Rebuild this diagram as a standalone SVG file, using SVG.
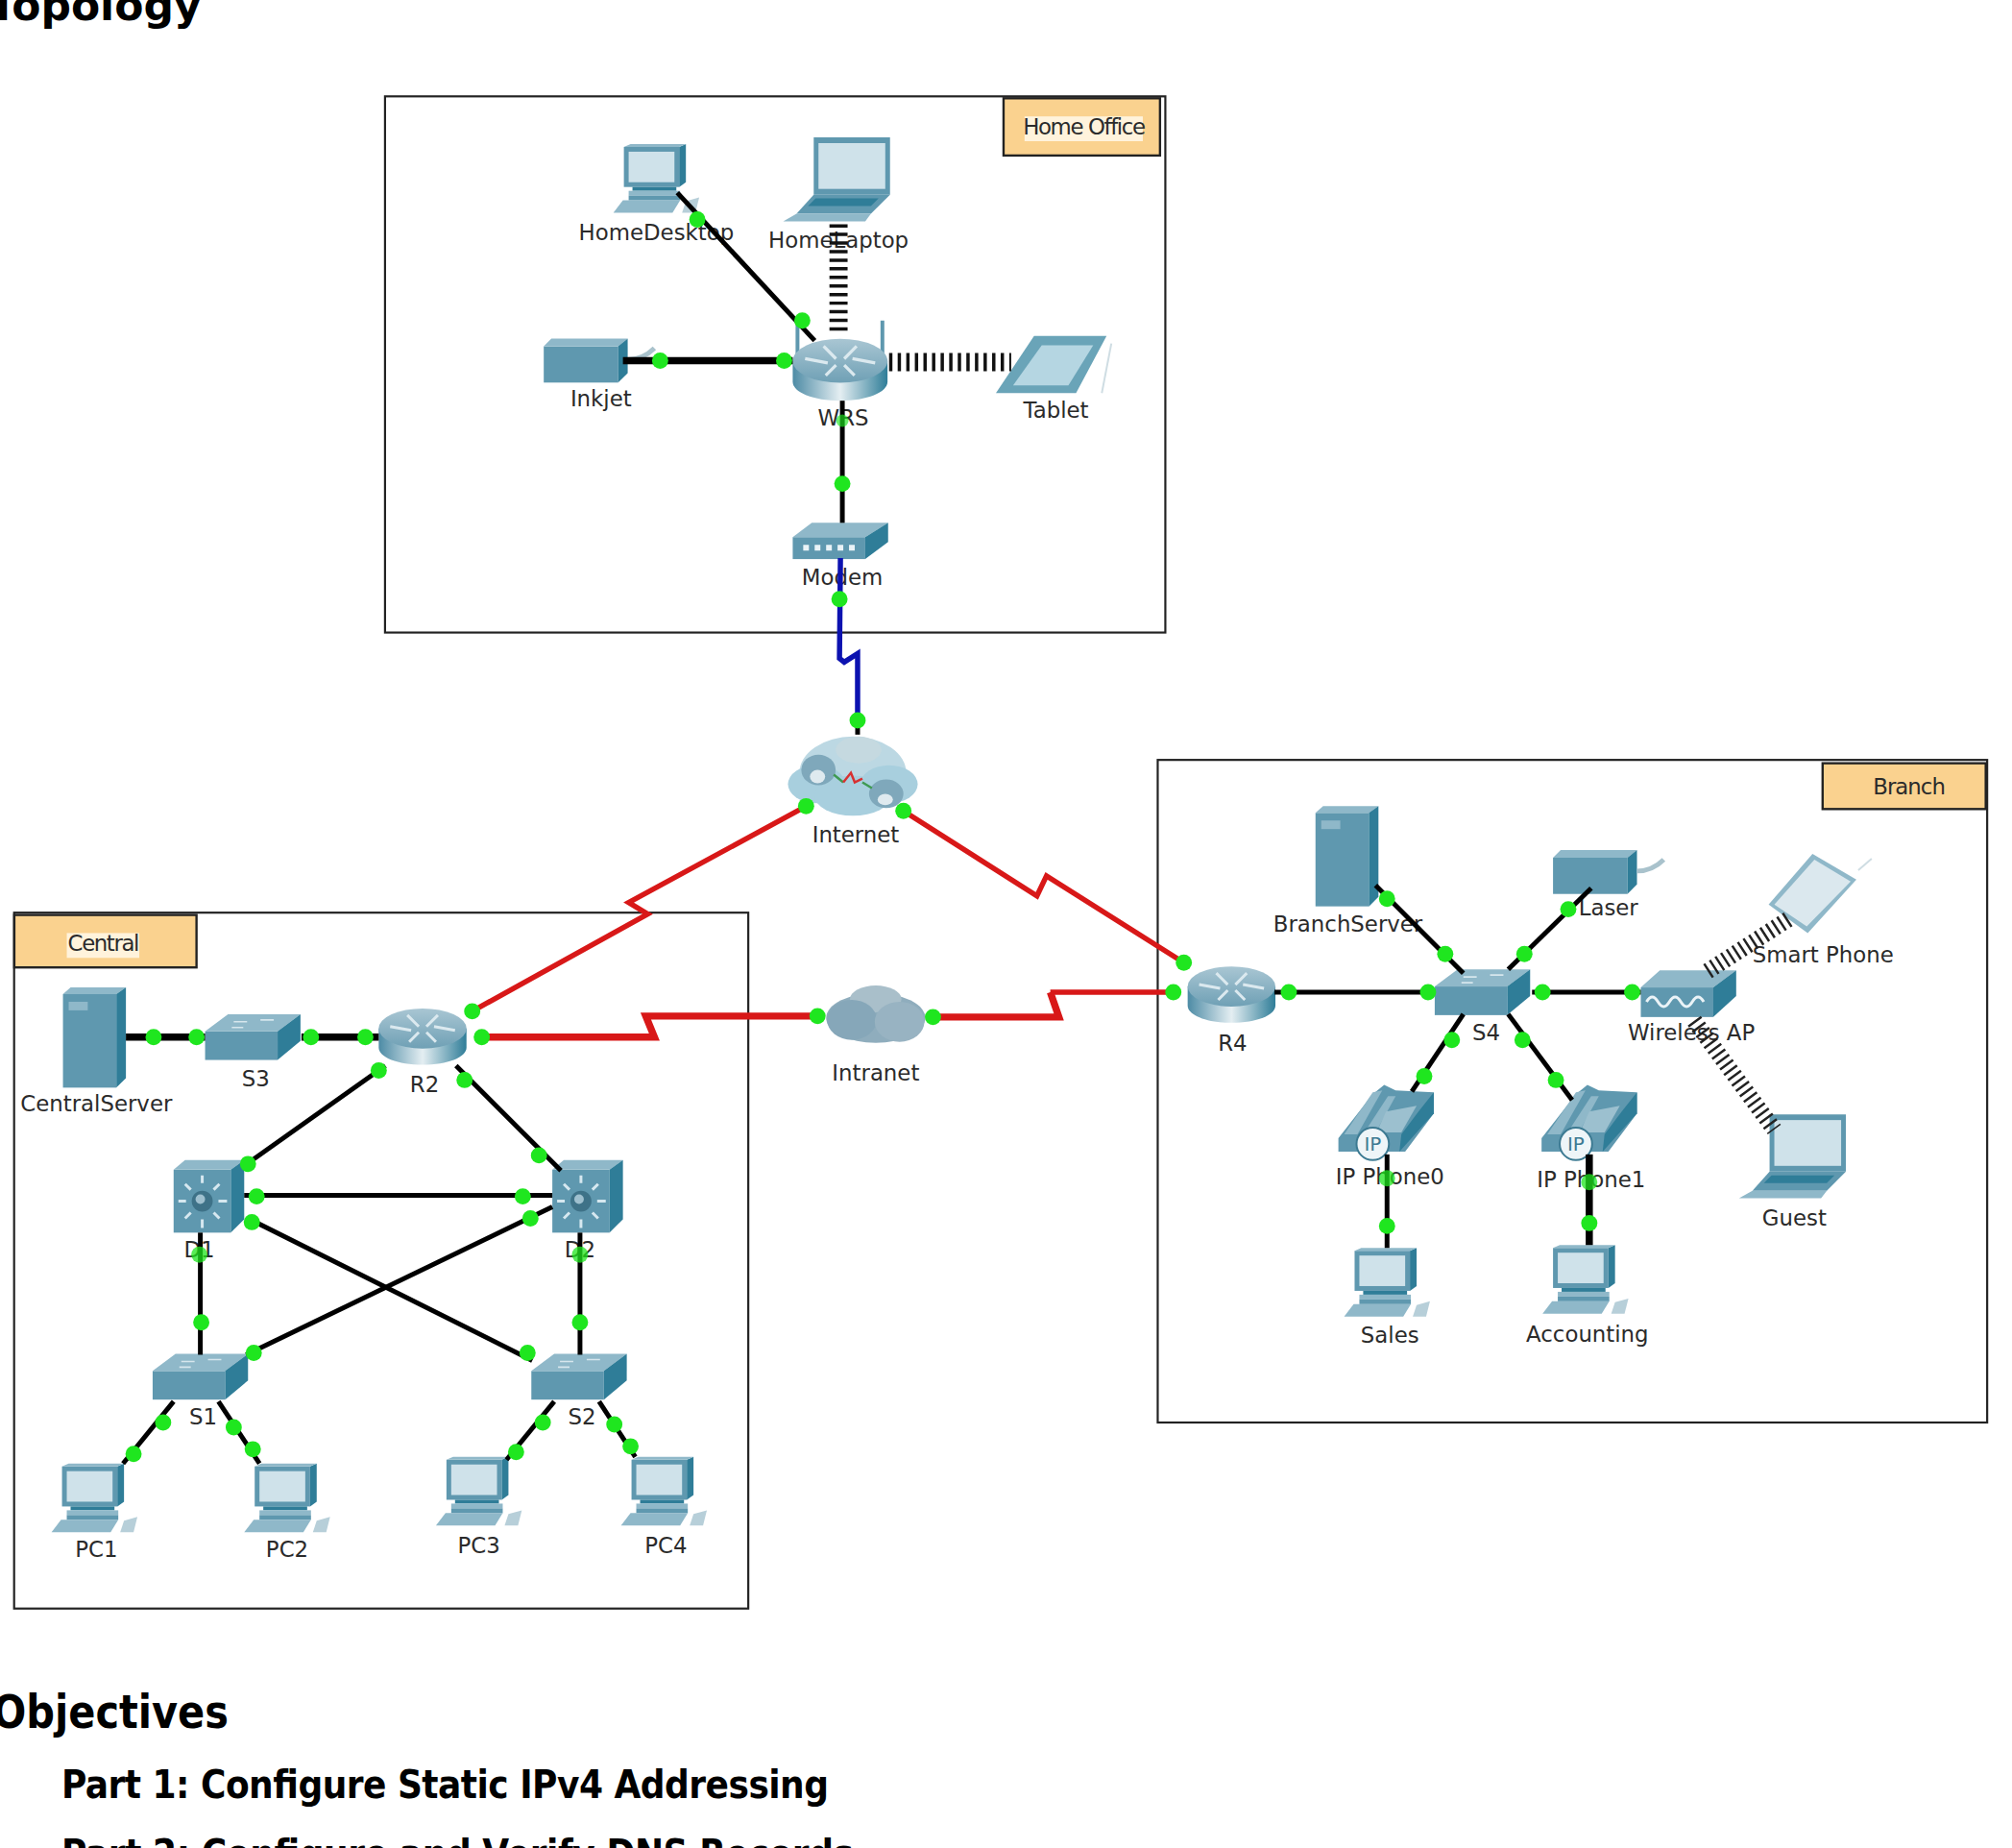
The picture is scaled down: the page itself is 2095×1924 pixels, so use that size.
<svg xmlns="http://www.w3.org/2000/svg" width="2095" height="1924" viewBox="0 0 2095 1924">
<style>
.box{fill:none;stroke:#222;stroke-width:2.2}
.tag{fill:#fad28f;stroke:#222;stroke-width:2.4}
.hl{fill:#fff3dc}
.t{font-family:"DejaVu Sans",sans-serif;font-size:23px;fill:#2b2b2b;text-anchor:middle}
.h{font-family:"DejaVu Sans",sans-serif;font-stretch:condensed;font-weight:bold;fill:#000}
.k{fill:none;stroke:#000;stroke-width:5}
.kt{fill:none;stroke:#000;stroke-width:7.5}
.r{fill:none;stroke:#d81818;stroke-width:5.5;stroke-linejoin:miter}
.rt{fill:none;stroke:#d81818;stroke-width:7.5}
.b{fill:none;stroke:#0c12b0;stroke-width:5.5}
.w{fill:none;stroke:#111;stroke-width:19;stroke-dasharray:3.5 5.5}
.w2{fill:none;stroke:#222;stroke-width:17;stroke-dasharray:2.5 4.5}
.d{fill:#1fe61f}
.f{fill:#5f98af}.l{fill:#8fb8c9}.s{fill:#2f7d98}.sc{fill:#cfe2ea}
</style>
<defs>
<linearGradient id="rg" x1="0" x2="1" y1="0" y2="0"><stop offset="0" stop-color="#4d8ba5"/><stop offset=".5" stop-color="#e4eef2"/><stop offset="1" stop-color="#2f7d98"/></linearGradient>
<linearGradient id="rt" x1="0" x2="0" y1="0" y2="1"><stop offset="0" stop-color="#a9c6d3"/><stop offset="1" stop-color="#6fa0b5"/></linearGradient>
<g id="pc">
<rect class="f" x="11" y="3" width="58" height="42"/><polygon class="s" points="69,3 76,0 76,40 69,45"/><polygon class="l" points="11,3 18,0 76,0 69,3"/><rect class="sc" x="16" y="8" width="48" height="32"/>
<rect class="s" x="20" y="45" width="46" height="4"/><rect class="l" x="16" y="49" width="54" height="5"/><rect class="f" x="16" y="54" width="54" height="5"/>
<polygon class="l" points="0,72 10,59 70,59 62,72"/><polygon fill="#b7cfd9" points="76,60 90,56 86,72 72,72"/>
</g>
<g id="laptop">
<polygon class="f" points="32,0 112,0 112,60 32,60"/><rect class="sc" x="37" y="6" width="70" height="48"/>
<polygon class="f" points="32,60 112,60 92,80 14,80"/><polygon class="l" points="14,80 92,80 86,88 0,88"/><polygon class="s" points="34,64 100,64 92,72 26,72"/>
</g>
<g id="router">
<path d="M0,22 L0,42 C0,52 20,60 46,60 C72,60 92,52 92,42 L92,22 Z" fill="url(#rg)"/>
<ellipse cx="46" cy="22" rx="46" ry="21" fill="url(#rt)"/>
<path d="M12,20 L34,24 M58,20 L80,24 M30,8 L42,20 M62,8 L50,20 M32,36 L42,26 M60,36 L50,26" stroke="#dbe9ef" stroke-width="3" fill="none"/>
</g>
<g id="switch">
<rect class="f" x="0" y="18" width="76" height="30"/><polygon class="l" points="0,18 24,0 100,0 76,18"/><polygon class="s" points="76,18 100,0 100,28 76,48"/>
<path d="M30,8 L44,8 M58,6 L72,6 M28,14 L40,14" stroke="#d6e6ed" stroke-width="1.6"/>
</g>
<g id="ml">
<rect class="f" x="0" y="10" width="60" height="66"/><polygon class="l" points="0,10 12,0 74,0 60,10"/><polygon class="s" points="60,10 74,0 74,62 60,76"/>
<circle cx="30" cy="43" r="11" fill="#3e7288"/><circle cx="28" cy="41" r="5" fill="#9fc0cf"/>
<path d="M30,16 V24 M30,62 V71 M5,43 H13 M47,43 H56 M12,25 L18,31 M48,25 L42,31 M12,61 L18,55 M48,61 L42,55" stroke="#d6e8f0" stroke-width="3"/>
</g>
<g id="server">
<rect class="f" x="0" y="7" width="56" height="98"/><polygon class="l" points="0,7 8,0 66,0 56,7"/><polygon class="s" points="56,7 66,0 66,95 56,105"/><rect class="l" x="6" y="15" width="20" height="9"/>
</g>
<g id="printer">
<rect class="f" x="0" y="8" width="78" height="38"/><polygon class="l" points="0,8 8,0 88,0 78,8"/><polygon class="s" points="78,8 88,0 88,36 78,46"/>
<path d="M88,22 C100,22 108,18 116,10" stroke="#a9c2cc" stroke-width="5" fill="none"/>
</g>
<g id="phone">
<polygon class="f" points="0,70 0,56 36,10 48,0 60,6 100,8 100,30 70,70"/>
<polygon class="l" points="6,52 36,8 46,6 20,52"/><polygon class="l" points="26,52 52,12 60,12 38,52"/>
<polygon class="s" points="64,70 100,30 100,8 84,28 66,52"/><polygon fill="#9cc0cf" points="50,28 82,22 66,50 40,50"/>
<circle cx="36" cy="62" r="17" fill="#eef5f8" stroke="#3c7a92" stroke-width="2"/>
<text x="36" y="69" font-family="DejaVu Sans,sans-serif" font-size="20" fill="#3c7a92" text-anchor="middle">IP</text>
</g>
<g id="cloudI">
<ellipse cx="68" cy="40" rx="56" ry="38" fill="#bcd8e3"/><ellipse cx="30" cy="52" rx="30" ry="20" fill="#a8cfde"/><ellipse cx="106" cy="52" rx="30" ry="20" fill="#a8cfde"/><ellipse cx="68" cy="64" rx="40" ry="21" fill="#a8cfde"/><ellipse cx="74" cy="16" rx="24" ry="14" fill="#c5d9e0"/>
<ellipse cx="32" cy="37" rx="18" ry="16" fill="#7fa8bb"/><ellipse cx="31" cy="44" rx="8" ry="7" fill="#dfeaef"/><ellipse cx="103" cy="62" rx="18" ry="15" fill="#7fa8bb"/><ellipse cx="102" cy="68" rx="8" ry="6" fill="#dfeaef"/>
<path d="M48,42 L58,50 M78,50 L88,56" stroke="#3f9a52" stroke-width="2.5"/><path d="M58,50 L66,40 L70,50 L78,46" stroke="#d83030" stroke-width="2.5" fill="none"/>
</g>
<g id="cloudN">
<ellipse cx="53" cy="34" rx="52" ry="26" fill="#8fadbd"/><ellipse cx="53" cy="14" rx="27" ry="14" fill="#a9bfca"/><ellipse cx="28" cy="36" rx="26" ry="21" fill="#86a7b9"/><ellipse cx="78" cy="38" rx="26" ry="21" fill="#98b3c2"/>
</g>
</defs>
<text class="h" style="font-stretch:normal" x="-12" y="21" font-size="44">Topology</text>
<text class="h" x="-8" y="1799" font-size="48" textLength="246" lengthAdjust="spacingAndGlyphs">Objectives</text>
<text class="h" x="64" y="1872" font-size="40" textLength="799" lengthAdjust="spacing">Part 1: Configure Static IPv4 Addressing</text>
<text class="h" x="64" y="1944" font-size="40" textLength="825" lengthAdjust="spacing">Part 2: Configure and Verify DNS Records</text>

<g transform="scale(.9933)">
<g id="clusters">
<rect class="box" x="403.6" y="101" width="818" height="562"/>
<rect class="tag" x="1052" y="103" width="164" height="60"/><rect class="hl" x="1074" y="122" width="124" height="26"/><text class="t" x="1136" y="141" style="letter-spacing:-1.4px">Home Office</text>
<rect class="box" x="1213.6" y="796.5" width="869.5" height="694.5"/>
<rect class="tag" x="1910.6" y="800" width="171" height="48"/><text class="t" x="2001" y="833" style="letter-spacing:-1px">Branch</text>
<rect class="box" x="14.8" y="956.6" width="769.6" height="729.4"/>
<rect class="tag" x="15" y="959" width="191" height="55"/><rect class="hl" x="70" y="978" width="76" height="26"/><text class="t" x="108" y="997" style="letter-spacing:-1.4px">Central</text>
</g>

<g id="HomeDesktop"><use href="#pc" transform="translate(643,151)"/><text class="t" x="688" y="252">HomeDesktop</text></g>
<g id="HomeLaptop"><use href="#laptop" transform="translate(821,144)"/><text class="t" x="879" y="260">HomeLaptop</text></g>
<g id="Inkjet"><use href="#printer" transform="translate(570,355)"/><text class="t" x="630" y="426">Inkjet</text></g>
<g id="WRS"><path d="M836,338 V372 M925,336 V372" stroke="#5f98af" stroke-width="4"/><use href="#router" transform="translate(831,354) scale(1.08,1.1)"/><text class="t" x="884" y="446">WRS</text></g>
<g id="Tablet"><polygon fill="#6aa4b8" points="1044,412 1084,352 1160,352 1128,412"/><polygon fill="#b5d6e2" points="1062,404 1092,362 1146,362 1120,404"/><path d="M1165,360 L1155,412" stroke="#cfdde3" stroke-width="2"/><text class="t" x="1107" y="438">Tablet</text></g>
<g id="Modem"><rect class="f" x="831" y="563" width="76" height="23"/><polygon class="l" points="831,563 851,548 931,548 907,563"/><polygon class="s" points="907,563 931,548 931,568 907,586"/><path d="M842,574 H896" stroke="#eaf3f7" stroke-width="6" stroke-dasharray="6 6"/><text class="t" x="883" y="613">Modem</text></g>
<g id="Internet"><use href="#cloudI" transform="translate(826,770)"/><text class="t" x="897" y="883">Internet</text></g>
<g id="Intranet"><use href="#cloudN" transform="translate(865,1033)"/><text class="t" x="918" y="1133">Intranet</text></g>
<g id="R2"><use href="#router" transform="translate(397,1056)"/><text class="t" x="445" y="1145">R2</text></g>
<g id="R4"><use href="#router" transform="translate(1245,1012)"/><text class="t" x="1292" y="1101">R4</text></g>
<g id="S3"><use href="#switch" transform="translate(215,1063)"/><text class="t" x="268" y="1139">S3</text></g>
<g id="CentralServer"><use href="#server" transform="translate(66,1035)"/><text class="t" x="101" y="1165">CentralServer</text></g>
<g id="D1"><use href="#ml" transform="translate(182,1216)"/><text class="t" x="209" y="1318">D1</text></g>
<g id="D2"><use href="#ml" transform="translate(579,1216)"/><text class="t" x="608" y="1318">D2</text></g>
<g id="S1"><use href="#switch" transform="translate(160,1419)"/><text class="t" x="213" y="1493">S1</text></g>
<g id="S2"><use href="#switch" transform="translate(557,1419)"/><text class="t" x="610" y="1493">S2</text></g>
<g id="PC1"><use href="#pc" transform="translate(54,1534)"/><text class="t" x="101" y="1632">PC1</text></g>
<g id="PC2"><use href="#pc" transform="translate(256,1534)"/><text class="t" x="301" y="1632">PC2</text></g>
<g id="PC3"><use href="#pc" transform="translate(457,1527)"/><text class="t" x="502" y="1628">PC3</text></g>
<g id="PC4"><use href="#pc" transform="translate(651,1527)"/><text class="t" x="698" y="1628">PC4</text></g>
<g id="BranchServer"><use href="#server" transform="translate(1379,845)"/><text class="t" x="1413" y="977">BranchServer</text></g>
<g id="Laser"><use href="#printer" transform="translate(1628,891)"/><text class="t" x="1686" y="959">Laser</text></g>
<g id="SmartPhone"><polygon class="l" points="1854,948 1900,895 1946,922 1895,978"/><polygon fill="#dbe8ee" points="1860,948 1902,901 1940,924 1894,971"/><path d="M1948,912 L1962,900" stroke="#cfdde3" stroke-width="2"/><text class="t" x="1911" y="1009">Smart Phone</text></g>
<g id="WirelessAP"><rect class="f" x="1720" y="1035" width="76" height="31"/><polygon class="l" points="1720,1035 1740,1017 1820,1017 1796,1035"/><polygon class="s" points="1796,1035 1820,1017 1820,1044 1796,1066"/><path d="M1726,1050 q6,-10 12,0 t12,0 t12,0 t12,0 t12,0" stroke="#eaf3f7" stroke-width="3" fill="none"/><text class="t" x="1773" y="1090">Wireless AP</text></g>
<g id="S4"><use href="#switch" transform="translate(1504,1016)"/><text class="t" x="1558" y="1090">S4</text></g>
<g id="IPPhone0"><use href="#phone" transform="translate(1403,1137)"/><text class="t" x="1457" y="1241">IP Phone0</text></g>
<g id="IPPhone1"><use href="#phone" transform="translate(1616,1137)"/><text class="t" x="1668" y="1244">IP Phone1</text></g>
<g id="Sales"><use href="#pc" transform="translate(1409,1308)"/><text class="t" x="1457" y="1407">Sales</text></g>
<g id="Accounting"><use href="#pc" transform="translate(1617,1305)"/><text class="t" x="1664" y="1406">Accounting</text></g>
<g id="Guest"><use href="#laptop" transform="translate(1823,1168)"/><text class="t" x="1881" y="1285">Guest</text></g>

<g id="connectors">
<path class="k" d="M710,202 L854,357"/>
<path class="w" d="M879,235 V352"/>
<path class="kt" d="M653,378 H831"/>
<path class="w" d="M932,379.5 H1060"/>
<path class="k" d="M883,420 V548"/>
<path class="b" d="M881,585 L880,690 L885,694 L899,685 V760"/><path class="k" d="M899,760 V770"/>
<path class="r" d="M845,845 L659,946 L679,958 L495,1060"/>
<path class="r" d="M947,850 L1087,939 L1097,918 L1241,1009"/>
<path class="rt" d="M505,1087 H686 L677,1065 H857"/>
<path class="rt" d="M978,1066 H1110 L1101,1040"/><path class="r" d="M1101,1040 H1230"/>
<path class="k" d="M1336,1040 H1504"/>
<path class="k" d="M1606,1040 H1720"/>
<path class="k" d="M1442,928 L1534,1020"/>
<path class="k" d="M1668,931 L1581,1016"/>
<path class="k" d="M1534,1063 L1480,1144"/>
<path class="k" d="M1581,1063 L1648,1153"/>
<path class="k" d="M1454,1210 V1308"/>
<path class="kt" d="M1666,1210 V1305"/>
<path class="w2" d="M1790,1018 L1877,962"/>
<path class="w2" d="M1776,1070 L1860,1184"/>
<path class="kt" d="M132,1087 H215"/>
<path class="kt" d="M316,1087 H397"/>
<path class="k" d="M404,1117 L256,1222"/>
<path class="k" d="M478,1117 L588,1227"/>
<path class="k" d="M256,1253 H579"/>
<path class="k" d="M262,1278 L558,1426"/>
<path class="k" d="M579,1265 L258,1420"/>
<path class="k" d="M210,1292 V1420"/>
<path class="k" d="M608,1292 V1420"/>
<path class="k" d="M182,1469 L129,1534"/>
<path class="k" d="M229,1469 L272,1534"/>
<path class="k" d="M581,1469 L531,1530"/>
<path class="k" d="M628,1469 L666,1527"/>
<g id="dots">
<circle class="d" cx="731" cy="230" r="8.5"/><circle class="d" cx="841" cy="336" r="8.5"/>
<circle class="d" cx="692" cy="378" r="8.5"/><circle class="d" cx="822" cy="378" r="8.5"/>
<circle class="d" cx="883" cy="507" r="8.5"/><circle class="d" cx="883" cy="441" r="6.5" opacity=".65"/>
<circle class="d" cx="880" cy="628" r="8.5"/><circle class="d" cx="899" cy="755" r="8.5"/>
<circle class="d" cx="845" cy="845" r="8.5"/><circle class="d" cx="495" cy="1060" r="8.5"/>
<circle class="d" cx="947" cy="850" r="8.5"/><circle class="d" cx="1241" cy="1009" r="8.5"/>
<circle class="d" cx="505" cy="1087" r="8.5"/><circle class="d" cx="857" cy="1065" r="8.5"/>
<circle class="d" cx="978" cy="1066" r="8.5"/><circle class="d" cx="1230" cy="1040" r="8.5"/>
<circle class="d" cx="1351" cy="1040" r="8.5"/><circle class="d" cx="1497" cy="1040" r="8.5"/>
<circle class="d" cx="1617" cy="1040" r="8.5"/><circle class="d" cx="1711" cy="1040" r="8.5"/>
<circle class="d" cx="1454" cy="942" r="8.5"/><circle class="d" cx="1515" cy="1000" r="8.5"/>
<circle class="d" cx="1644" cy="953" r="8.5"/><circle class="d" cx="1598" cy="1000" r="8.5"/>
<circle class="d" cx="1522" cy="1090" r="8.5"/><circle class="d" cx="1493" cy="1128" r="8.5"/>
<circle class="d" cx="1596" cy="1090" r="8.5"/><circle class="d" cx="1631" cy="1132" r="8.5"/>
<circle class="d" cx="1454" cy="1235" r="8.5" opacity=".75"/><circle class="d" cx="1454" cy="1285" r="8.5"/>
<circle class="d" cx="1666" cy="1239" r="8.5" opacity=".75"/><circle class="d" cx="1666" cy="1282" r="8.5"/>
<circle class="d" cx="161" cy="1087" r="8.5"/><circle class="d" cx="206" cy="1087" r="8.5"/>
<circle class="d" cx="326" cy="1087" r="8.5"/><circle class="d" cx="383" cy="1087" r="8.5"/>
<circle class="d" cx="397" cy="1122" r="8.5"/><circle class="d" cx="260" cy="1220" r="8.5"/>
<circle class="d" cx="487" cy="1132" r="8.5"/><circle class="d" cx="565" cy="1211" r="8.5"/>
<circle class="d" cx="269" cy="1254" r="8.5"/><circle class="d" cx="548" cy="1254" r="8.5"/>
<circle class="d" cx="264" cy="1281" r="8.5"/><circle class="d" cx="553" cy="1418" r="8.5"/>
<circle class="d" cx="556" cy="1277" r="8.5"/><circle class="d" cx="266" cy="1418" r="8.5"/>
<circle class="d" cx="209" cy="1315" r="8.5" opacity=".75"/><circle class="d" cx="211" cy="1386" r="8.5"/>
<circle class="d" cx="608" cy="1315" r="8.5" opacity=".75"/><circle class="d" cx="608" cy="1386" r="8.5"/>
<circle class="d" cx="171" cy="1491" r="8.5"/><circle class="d" cx="140" cy="1524" r="8.5"/>
<circle class="d" cx="245" cy="1496" r="8.5"/><circle class="d" cx="265" cy="1519" r="8.5"/>
<circle class="d" cx="569" cy="1491" r="8.5"/><circle class="d" cx="541" cy="1522" r="8.5"/>
<circle class="d" cx="644" cy="1493" r="8.5"/><circle class="d" cx="661" cy="1516" r="8.5"/>
</g>
</g>
</g>
</svg>
